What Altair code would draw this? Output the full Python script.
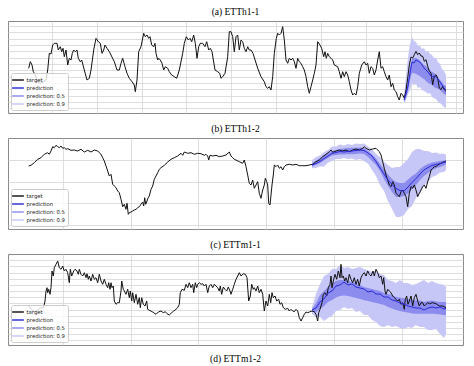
import altair as alt
import pandas as pd

SERIES = ["target", "prediction", "prediction: 0.5", "prediction: 0.9"]
COLORS = ["#111111", "#2a2ad6", "#8c8cef", "#c7c7f7"]
TITLES = ["(a) ETTh1-1", "(b) ETTh1-2", "(c) ETTm1-1", "(d) ETTm1-2"]

# ---------------- panel (a) ETTh1-1 ----------------
A_T = [20.7, 22.3, 24, 25.3, 27, 28.7, 30.3, 33, 35.7, 38, 39.7, 41.3, 43, 44.7, 46.3, 49, 50.3, 52.3, 53.7, 55,
       56.3, 58, 59.7, 61.3, 63, 64.3, 65.7, 67.3, 69, 70.3, 72.3, 73.7, 76.3, 79, 81.3, 83, 85.7, 88, 90.3, 92.3,
       94, 95.7, 97, 99, 101.3, 103, 106.3, 109, 111.3, 113, 114.7, 117, 119, 121.3, 124, 126.3, 127.3, 129, 130.7, 133,
       135.7, 137.3, 139, 140.7, 142, 143.7, 145.7, 147, 148, 149.7, 150.7, 152.3, 154, 155.7, 157.3, 159.7, 161.3, 163.7, 166.3, 168.7,
       171.3, 174.7, 176.3, 178.3, 180.3, 182, 183.7, 185.7, 187.3, 189, 190.7, 192.3, 194.7, 197, 198.7, 200.7, 202.3, 204, 207, 209.7,
       211.7, 213, 214.7, 217, 219.7, 221.3, 223, 224.7, 226.3, 228, 229.7, 231.3, 233, 234.7, 236.3, 238, 239.7, 241.3, 243, 245,
       249.7, 253, 256.3, 258, 259.7, 261.3, 263, 264.7, 266.3, 268.3, 269.7, 271.3, 273, 274.7, 276.3, 278, 279.7, 281.3, 283, 284.7,
       286.3, 288, 289.7, 291.3, 293, 294.7, 296.3, 298, 299.7, 301.3, 303, 304.7, 306.3, 308, 309.7, 312, 313.7, 315.7, 317, 318.3,
       319.7, 321.3, 323, 324.7, 326.3, 329.7, 331.3, 333, 334.7, 336.3, 338, 339.7, 341.3, 343, 344.7, 346.3, 348, 349.7, 351.3, 353.7,
       356.3, 358, 359.7, 361.3, 363, 364.7, 366.3, 368, 369.7, 371.3, 373, 374.7, 376.3, 378, 379.7, 381.3, 383, 384.7, 386.3, 388,
       389.7, 391.3, 393, 394.7, 396.3, 398, 399.7, 401.3, 403, 404.7, 406.3, 408, 409.7, 411.3, 413, 414.7, 416.3, 418, 419.7, 421.3,
       423, 424.7, 426.3, 428, 429.7, 431.3, 433, 434.7, 436.3, 438]
A_V = [44.7, 51.3, 48, 41.3, 39, 33, 30.3, 29.7, 31.3, 33, 43, 59.7, 59, 68, 69.7, 69.7, 63, 66.3, 61.3, 64.7,
       56.3, 63, 48, 54.7, 53, 59.7, 63, 61.3, 63, 54.7, 51.3, 53, 43, 33, 34.7, 43, 63, 74.7, 71.3, 69.7,
       59.7, 63, 68, 64.7, 61.3, 58, 51.3, 43, 43, 49.7, 54.7, 46.3, 39.7, 34.7, 31.3, 28, 21.3, 33, 61.3, 66.3,
       79.7, 76.3, 78, 74.7, 76.3, 68, 66.3, 69.7, 59.7, 53, 54.7, 53, 49.7, 43, 46.3, 44.7, 41.3, 38, 36.3, 34.7,
       43, 59.7, 69.7, 76.3, 73, 74.7, 71.3, 78, 69.7, 54.7, 66.3, 69.7, 69.7, 66.3, 71.3, 63, 64.7, 61.3, 43, 41.3,
       39.7, 34.7, 36.3, 39.7, 56.3, 81.3, 81.3, 76.3, 61.3, 76.3, 78, 63, 73, 71.3, 64.7, 61.3, 66.3, 63, 63, 59.7,
       44.7, 36.3, 31.3, 26.3, 24.7, 26.3, 23, 36.3, 59.7, 74.7, 79.7, 78, 79.7, 86.3, 73, 53, 49.7, 54.7, 53, 54.7,
       51.3, 44.7, 54.7, 51.3, 49.7, 46.3, 43, 36.3, 26.3, 19.7, 26.3, 33, 39.7, 48, 71.3, 68, 64.7, 56.3, 61.3, 54.7,
       59.7, 56.3, 54.7, 53, 48, 46.3, 41.3, 34.7, 41.3, 36.3, 41.3, 38, 31.3, 23, 18, 19.7, 18, 26.3, 39.7, 48,
       51.3, 48, 49.7, 39.7, 46.3, 44.7, 38, 43, 53, 61.3, 44.7, 46.3, 41.3, 36.3, 33, 38, 26.3, 29.7, 23, 21.3,
       16.3, 13, 19.7, 18, 14.7, 23, 35, 48, 56, 55, 58.3, 61.7, 58.3, 60, 57, 56.7, 51.7, 53.3, 46.7, 41.7,
       40, 28.3, 36.7, 38.3, 35, 25, 23.3, 26.7, 23.3, 21.7]
A_FT = [396, 398, 400, 402, 404, 406, 408, 410, 412, 414, 416, 418, 420, 422, 424, 426, 428, 430, 432, 434, 436, 438]
A_MED = [13, 19, 27, 40, 51, 50, 53, 52, 51, 48, 45, 43, 41, 38, 36, 37, 36, 34, 31, 28, 25, 23]
A_HI50 = [15, 24, 34, 46, 54, 55, 55, 54, 52, 50, 48, 47, 45, 43, 41, 40, 38, 35, 33, 31, 28, 27]
A_LO50 = [11, 15, 22, 33, 40, 40, 39, 38, 37, 35, 34, 32, 30, 29, 28, 26, 25, 24, 23, 21, 19, 18]
A_HI90 = [18, 36, 56, 69, 76, 72, 71, 67, 67, 64, 65, 61, 62, 59, 58, 55, 55, 51, 49, 44, 42, 38]
A_LO90 = [10, 13, 19, 23, 29, 28, 29, 25, 26, 23, 22, 21, 19, 20, 16, 15, 14, 11, 10, 8, 6, 5]
A_XGRID = [43.7, 88.6, 133.5, 178.4, 223.3, 268.2, 313.1, 358.0, 402.9, 447.8]
A_YGRID = [4.7, 11.0, 17.4, 23.7, 30.0, 36.4, 42.7, 49.0, 55.3, 61.7, 68.0, 74.3, 80.7, 87.0]

# ---------------- panel (b) ETTh1-2 ----------------
B_T = [20.7, 23, 26.3, 29.7, 33, 36.3, 39.7, 41.3, 43, 44.7, 46.3, 48, 49.7, 51.3, 53, 54.7, 56.3, 58, 59.7, 63,
       66.3, 69.7, 73, 76.3, 79.7, 83, 86.3, 89.7, 91.3, 93, 94.7, 96.3, 98, 99.7, 101.3, 103, 104.7, 106.3, 108, 109.7,
       111.3, 113, 114.7, 116.3, 118, 119, 120.3, 121.3, 123, 124.7, 126.3, 128, 129.7, 131.3, 133, 134.7, 135.7, 136.7, 137.7, 138.7,
       139.7, 141.3, 143, 144.7, 146.3, 148, 149.7, 151.3, 153, 156.3, 159.7, 163, 166.3, 169.7, 173, 174.7, 176.3, 179.7, 183, 186.3,
       189.7, 193, 196.3, 198, 199.7, 200.7, 202, 204.7, 208, 211.3, 214.7, 218, 221.3, 223, 224.7, 226.3, 228, 231.3, 234.7, 236.3,
       238, 239.7, 241.3, 243, 244.7, 246.3, 248, 249.7, 251.3, 253, 254.7, 256.3, 257.3, 258.7, 259.7, 260.7, 262, 264, 265.3, 266.3,
       268, 269.7, 271.3, 273, 274.7, 276.3, 278, 281.3, 284.7, 288, 291.3, 294.7, 298, 301.3, 304.7, 308, 311.3, 314.7, 318, 321.3,
       323, 324.7, 328, 331.3, 334.7, 338, 341.3, 344.7, 348, 351.3, 354.7, 356.3, 358, 361.3, 364.7, 368, 371.3, 373, 374.7, 376.3,
       378, 379.7, 381.3, 383, 384.7, 386.3, 388, 389.7, 391.3, 393, 394.7, 396.3, 398, 399.7, 401.3, 403, 404.7, 406.3, 408, 409.7,
       411.3, 413, 414.7, 416.3, 418, 419.7, 421.3, 423, 424.7, 426.3, 428, 429.7, 431.3, 433, 434.7, 436.3, 438]
B_V = [63, 63.7, 66.3, 69.7, 71.3, 74.7, 76.3, 74.7, 78, 82.3, 81.3, 83.7, 82.3, 81.3, 83, 80.7, 81.3, 79.7, 80.3, 78.7,
       79, 78, 79.7, 77, 78.7, 77, 79, 78, 76.3, 74.7, 71.3, 68, 63, 58, 53, 54.7, 44.7, 43, 41.3, 38,
       36.3, 29.7, 22.3, 24.7, 19.7, 25.7, 14.7, 16.3, 17, 18, 19, 19.7, 21.3, 22.3, 24.7, 27, 23, 31.3, 24.7, 27,
       30.3, 33, 39.7, 43, 49.7, 53, 56.3, 59.7, 61.3, 63.7, 67, 69.7, 71.3, 73, 75.7, 73.7, 77, 75.7, 76.3, 74.7,
       75.7, 75.3, 73.7, 74.7, 73, 69, 73.7, 73, 73.7, 72.3, 73, 74, 77, 73, 71.3, 69.7, 69, 67.3, 65.7, 69,
       62.3, 54, 45.7, 44, 49, 40.7, 44, 47.3, 35.7, 30.7, 39, 44, 50.7, 47.3, 44, 25.7, 24, 44, 54, 64,
       62.3, 64, 60.7, 62.3, 59, 62.3, 64, 64.7, 64, 64.7, 63.3, 63.3, 63.3, 64, 64.7, 67.3, 69, 72.3, 74.7, 77.3,
       79, 76.7, 78, 79, 78, 79, 77.3, 79, 80, 79, 80.7, 82.3, 80.7, 79, 80, 80.7, 77.3, 74, 67.3, 60.7,
       54, 49, 44, 42.3, 47.3, 44, 35.7, 34, 32.3, 37.3, 39, 35.7, 32.3, 22.3, 35.7, 42.3, 40.7, 44, 39, 32.3,
       35.7, 39, 42.3, 44, 40.7, 47.3, 52.3, 59, 60.7, 62.3, 62.3, 64, 64.7, 65.7, 66.7, 67.3, 68]
FT_BC = [304, 308, 312, 316, 320, 324, 328, 332, 336, 340, 344, 348, 352, 356, 360, 364, 368, 372, 376, 380,
         384, 388, 392, 396, 400, 404, 408, 412, 416, 420, 424, 428, 432, 436, 438]
B_MED = [64, 65.5, 67.5, 70.5, 73, 75.5, 76.5, 77.5, 77, 77.5, 78, 78.5, 79, 78.5, 76, 73, 67.5, 61, 55, 49,
         44.5, 40.5, 38.5, 38, 42, 46.5, 50.5, 55, 59, 61.5, 63.5, 64.5, 65.5, 66.5, 67.3]
B_HI50 = [65.7, 68.5, 71, 74, 76, 78, 79, 80, 80.5, 81, 81.3, 81.3, 81.5, 81, 78, 74.5, 70.5, 65, 60, 54.5,
          50, 47, 46, 46, 49.5, 53, 55.5, 60, 63, 65, 66.5, 67.3, 68, 68.5, 69]
B_LO50 = [62.3, 64, 66, 68.5, 71, 73.5, 74, 74.5, 74.5, 74.7, 74.7, 75, 75.5, 75, 72, 68, 64, 58, 50, 43,
          37, 32, 32, 33, 35.5, 40, 44, 49, 53, 56, 58.5, 60.7, 62, 63.5, 64.7]
B_HI90 = [69, 72, 73.5, 77, 79, 82.5, 82.5, 84.5, 83.5, 85, 84, 85.5, 85, 85.5, 82.5, 80, 75, 72, 67, 64,
          61, 62, 62, 66, 70, 77, 80, 80, 78, 78, 76, 76.5, 75, 75.5, 74]
B_LO90 = [60.7, 61, 62.5, 62.5, 66.5, 68, 70, 70, 71, 70, 70.5, 69, 70, 68, 65.5, 59, 53, 44, 38, 28,
          20, 12, 12, 14, 20, 23, 31, 36, 43, 47, 52, 53.5, 56.5, 57, 59]
B_XGRID = [54.7, 122.5, 190.3, 258.1, 325.9, 393.7]
B_YGRID = [4.2, 25.7, 47.2, 68.7]

# ---------------- panel (c) ETTm1-1 ----------------
C_T = [20.7, 22.3, 24, 26.3, 29, 31.3, 33.7, 35.7, 37, 38, 39, 39.7, 40.7, 42, 43, 44, 45.3, 46.3, 48, 49.7,
       51.3, 53, 54.7, 56.3, 58, 59.7, 61.3, 62.3, 63.7, 65.7, 67, 69, 70.3, 71.3, 73, 74.7, 76.3, 78, 79, 80.3,
       81.3, 83, 84.7, 86.3, 88, 89.7, 91.3, 93, 94.7, 96.3, 98, 99.7, 100.7, 102, 103, 104, 105.3, 106.3, 108, 109.7,
       111.3, 113, 113.7, 115.3, 116.3, 118, 119.7, 121.3, 122.3, 123.7, 124.7, 126.3, 128, 129.7, 131.3, 132.3, 133.7, 135.3, 137, 138.7,
       139.7, 141.3, 143, 145.7, 148, 150.3, 153, 155.3, 157.3, 159, 161.3, 163.7, 165.7, 168, 169.7, 171.3, 172.3, 174, 176.3, 178,
       179.7, 181.3, 183, 184.7, 185.7, 187.3, 188.7, 189.7, 191.3, 193, 194.7, 196.3, 198, 199.7, 201.3, 203, 204.7, 206.3, 208, 209.7,
       211.3, 212.3, 213.7, 215.3, 217, 218.7, 220.3, 222, 223, 224.7, 226.3, 228, 229.7, 231.3, 233, 235.3, 237.3, 239, 240.7, 242.3,
       243.7, 245.3, 246.3, 248, 249.7, 251.3, 253, 254.7, 256.3, 258, 259.7, 261.3, 262.7, 264, 265.3, 267, 268.7, 270.7, 272, 273.7,
       275.3, 277.3, 279.7, 281.3, 283, 284.7, 286.3, 288, 289.7, 291.3, 293, 294.7, 296.3, 298, 299.7, 301.3, 304, 306.3, 308, 309.7,
       310.7, 312, 314, 315.3, 317, 318.7, 320.3, 322, 323, 324, 325.3, 327, 328.7, 330.3, 332, 333, 334, 335.3, 336.7, 338,
       339.7, 341.3, 343, 344.7, 346.3, 348, 349.7, 351.3, 353, 354.7, 356.3, 358, 359.7, 361.3, 363, 365, 366.3, 368, 369.7, 371.3,
       373, 374.7, 375.7, 377, 378, 379.7, 381.3, 383, 384.7, 386.3, 388, 389.7, 391.3, 393, 394.7, 396.3, 397.3, 398.7, 400, 401.3,
       403, 404.7, 406.3, 408, 409.7, 411.3, 413, 414.7, 416.3, 418, 419.7, 421.3, 424.7, 428, 431.3, 434.7, 438]
C_V = [39, 36.7, 34.7, 33.3, 34, 36.7, 37.3, 38, 44, 54, 57.3, 52.3, 55.7, 50.7, 57.3, 74, 69, 77.3, 80.7, 84,
       77.3, 75.7, 79, 74, 75.7, 72.3, 62.3, 75.7, 69, 74, 75.7, 74, 70.7, 75.7, 70.7, 69, 72.3, 67.3, 71.3, 65.7,
       69, 64, 70.7, 65.7, 67.3, 62.3, 70.7, 64, 60.7, 65.7, 60.7, 57.3, 62.3, 55.7, 62.3, 57.3, 59, 44, 40.7, 42.3,
       42.3, 54, 64, 55.7, 54, 50.7, 55.7, 47.3, 54, 44, 52.3, 42.3, 50.7, 40.7, 47.3, 37.3, 47.3, 40.7, 39, 44,
       35.7, 34.7, 34, 32.3, 30.7, 33, 34, 32.3, 33.3, 31.3, 30, 32.3, 34, 35.7, 37.3, 40.7, 52.3, 55.7, 54.7, 60.7,
       57.3, 62.3, 57.3, 60.7, 52.3, 62.3, 57.3, 60.7, 62.3, 60.7, 61.3, 59, 60.7, 52.3, 59, 60.7, 57.3, 60.7, 59, 57.3,
       54, 59, 50.7, 58, 55.7, 54, 58, 54, 50.7, 55.7, 60.7, 65.7, 69, 72.3, 69, 71.3, 70.7, 67.3, 44, 49,
       60.7, 55.7, 57.3, 54, 59, 52.3, 55.7, 50.7, 34, 44, 39, 50.7, 42.3, 52.3, 47.3, 49, 44, 45.7, 40.7, 42.3,
       37.3, 35.7, 36.7, 34, 35.7, 34, 33.3, 35.7, 34, 27.3, 24, 27.3, 30.7, 33, 32.3, 33, 34, 33.3, 30.7, 24,
       32.3, 35.7, 42.3, 50.7, 52.3, 49, 57.3, 60.7, 69, 57.3, 64, 70.7, 65.7, 74, 67.3, 80.7, 67.3, 69, 64, 67.3,
       62.3, 70.7, 65.7, 62.3, 67.3, 60.7, 65.7, 59, 67.3, 70.7, 72.3, 69, 74, 70.7, 69, 74, 69, 75.7, 72.3, 67.3,
       69, 60.7, 67.3, 54, 50.7, 55.7, 54, 52.3, 49, 47.3, 45.7, 44, 45.7, 40.7, 42.3, 35.7, 45.7, 49, 40.7, 44,
       49, 39, 47.3, 50.7, 44, 39, 42.3, 42.3, 39, 40.7, 42.3, 41.3, 42.3, 41.3, 39, 39, 37.3]
C_MED = [35, 37, 43, 46, 52, 54, 59, 60, 63, 60, 61, 58, 57, 56, 53, 54, 51, 51, 48, 48,
         45, 44, 42, 41, 39, 38, 37, 37, 35, 37, 38, 37, 38, 36, 36.5]
C_HI50 = [36, 42, 50, 54, 58, 62, 64, 65, 65, 64, 63, 62, 60, 58, 57, 56, 55, 54, 52, 51,
          50, 48, 47.5, 46.5, 46, 45, 44.5, 44.5, 43, 44, 44.5, 43.5, 43, 43, 43]
C_LO50 = [33, 33, 36, 39, 43, 45, 47.5, 49, 49.5, 49, 48, 47, 46, 44.7, 44, 43, 42, 41, 40, 38,
          36.5, 35, 34, 33, 32.5, 31.5, 31.3, 31.3, 31.3, 31.3, 31.3, 31, 30.5, 30, 29.7]
C_HI90 = [38, 51, 61, 69, 71, 76, 76, 80, 77, 78, 76, 77, 78, 76, 75, 73, 74, 71, 70, 65,
          64, 62, 65, 62, 62, 60, 61, 63, 65, 62, 64, 62, 61, 60, 58]
C_LO90 = [31, 28, 28, 24, 27, 29, 34, 35, 38, 36, 37, 33, 34, 30, 30, 25, 23, 19, 18, 20,
          18, 19, 17, 16, 18, 17, 20, 18, 18, 15, 15, 16, 11, 7, 11]
C_XGRID = [54.7, 122.5, 190.3, 258.1, 325.9, 393.7]
C_YGRID = [4.7, 10.85, 17.0, 23.15, 29.3, 35.45, 41.6, 47.75, 53.9, 60.05, 66.2, 72.35, 78.5, 84.65]

SYMBOL = "M-1.3,-0.16H1.3V0.16H-1.3Z"


def panel(title, tt, tv, ft, med, lo50, hi50, lo90, hi90, xgrid, ygrid, h, ymax):
    tdf = pd.DataFrame({"t": tt, "v": tv})
    fdf = pd.DataFrame({"t": ft, "med": med, "lo50": lo50, "hi50": hi50,
                        "lo90": lo90, "hi90": hi90})
    xs = alt.Scale(domain=[0, 455], nice=False, zero=False)
    ys = alt.Scale(domain=[0, ymax], nice=False, zero=False)
    xax = alt.Axis(values=xgrid, labels=False, ticks=False, domain=False, title=None, grid=True)
    yax = alt.Axis(values=ygrid, labels=False, ticks=False, domain=False, title=None, grid=True)
    legend = alt.Legend(
        title=None, orient="bottom-left", offset=3, padding=2.5,
        fillColor="rgba(255,255,255,0.8)", strokeColor="#cccccc", cornerRadius=2,
        labelFont="DejaVu Sans", labelFontSize=5.3, labelColor="#222222", labelOffset=4,
        symbolSize=81, symbolType=SYMBOL, symbolStrokeWidth=0, rowPadding=-1,
    )
    color = alt.Color("series:N", scale=alt.Scale(domain=SERIES, range=COLORS), legend=legend)
    X = alt.X("t:Q", scale=xs, axis=xax)

    b90 = alt.Chart(fdf).transform_calculate(series="'prediction: 0.9'").mark_area(
        interpolate="linear").encode(x=X, y=alt.Y("lo90:Q", scale=ys, axis=yax), y2="hi90:Q", color=color)
    b50 = alt.Chart(fdf).transform_calculate(series="'prediction: 0.5'").mark_area(
        interpolate="linear").encode(x=X, y=alt.Y("lo50:Q", scale=ys, axis=yax), y2="hi50:Q", color=color)
    tl = alt.Chart(tdf).transform_calculate(series="'target'").mark_line(strokeWidth=1).encode(
        x=X, y=alt.Y("v:Q", scale=ys, axis=yax), color=color)
    ml = alt.Chart(fdf).transform_calculate(series="'prediction'").mark_line(strokeWidth=1).encode(
        x=X, y=alt.Y("med:Q", scale=ys, axis=yax), color=color)
    return alt.layer(b90, b50, tl, ml).properties(
        width=455, height=h,
        title=alt.TitleParams(title, font="Liberation Serif", fontSize=9.5, fontWeight="normal",
                              anchor="middle", offset=5, color="#000000"))


pa = panel(TITLES[0], A_T, A_V, A_FT, A_MED, A_LO50, A_HI50, A_LO90, A_HI90, A_XGRID, A_YGRID, 92, 92)
pb = panel(TITLES[1], B_T, B_V, FT_BC, B_MED, B_LO50, B_HI50, B_LO90, B_HI90, B_XGRID, B_YGRID, 91, 91)
pc = panel(TITLES[2], C_T, C_V, FT_BC, C_MED, C_LO50, C_HI50, C_LO90, C_HI90, C_XGRID, C_YGRID, 91, 91)

chart = alt.vconcat(pa, pb, pc, spacing=9).resolve_legend(color="independent").properties(
    title=alt.TitleParams(TITLES[3], orient="bottom", anchor="middle", font="Liberation Serif",
                          fontSize=9.5, fontWeight="normal", offset=8, color="#000000"),
    padding={"left": 7, "top": 6, "right": 5, "bottom": 2},
).configure_view(stroke="#8a8a8a", strokeWidth=1).configure_axis(
    gridColor="#d6d6d6", gridWidth=0.8, minExtent=0
)

chart.save("out.html", embed_options={"renderer": "svg", "actions": False})
